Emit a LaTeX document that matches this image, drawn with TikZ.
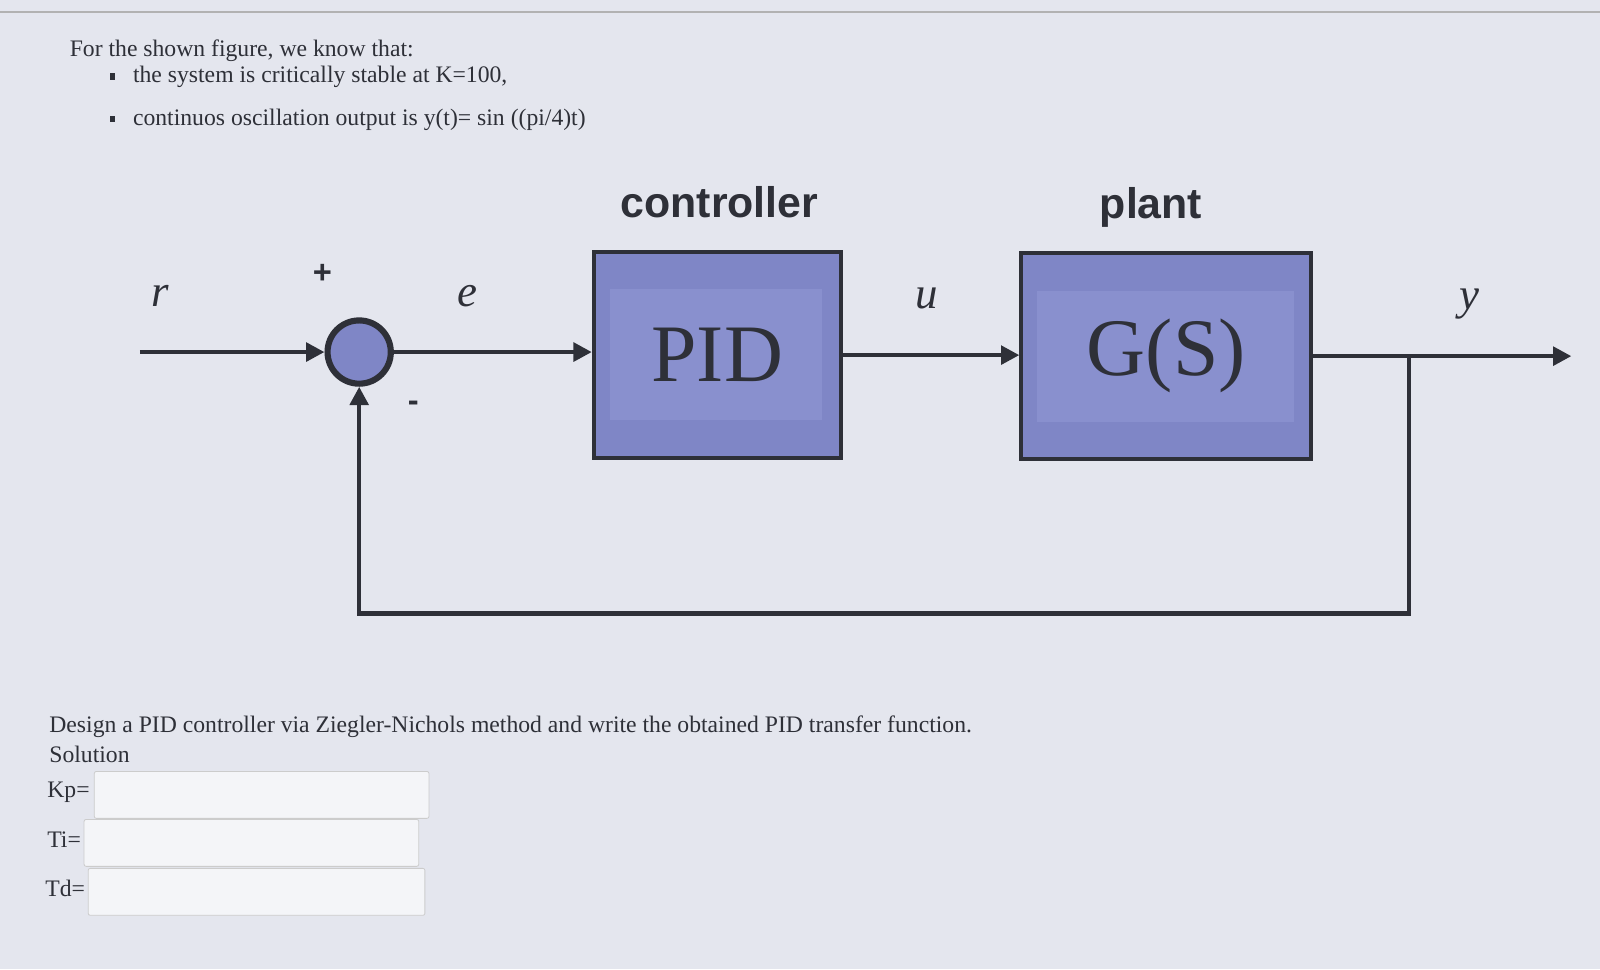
\documentclass[tikz,border=0pt]{standalone}
\usepackage{fontspec}
\setmainfont{Liberation Serif}
\setsansfont{Liberation Sans}
\usetikzlibrary{arrows.meta}
\definecolor{bg}{HTML}{E4E6EE}
\definecolor{boxf}{HTML}{7F86C6}
\definecolor{boxi}{HTML}{8990CE}
\definecolor{dk}{HTML}{2E3038}
\tikzset{
  txt/.style={anchor=west,inner sep=0pt,font=\fontsize{11.6}{13}\selectfont,text=dk},
  blk/.style={draw=dk,line width=2pt,fill=boxf,minimum height=101pt,inner sep=0pt},
  sig/.style={draw=dk,line width=2.2pt,-{Triangle[length=9pt,width=9pt]}},
  lbl/.style={font=\fontsize{22}{24}\selectfont\itshape,text=dk},
  ansbox/.style={draw=gray!40,fill=white!60!bg,rounded corners=1pt,minimum height=23pt,inner sep=0pt}
}
\begin{document}
\begin{tikzpicture}[x=0.5pt,y=-0.5pt]
\useasboundingbox[fill=bg] (0,0) rectangle (1568,950);
\draw[gray!60,line width=1pt] (0,12) -- (1568,12);
\node[txt] (t1) at (68,50) {For the shown figure, we know that:};
\node[txt] (t2) at (130,75) {the system is critically stable at K=100,};
\node[txt] (t3) at (130,117) {continuos oscillation output is y(t)= sin ((pi/4)t)};
\fill[dk] (108,72) rectangle (113,78);
\fill[dk] (108,114) rectangle (113,120);
\node[font=\sffamily\bfseries\fontsize{21}{24}\selectfont,text=dk] (ct) at (705,198) {controller};
\node[font=\sffamily\bfseries\fontsize{21}{24}\selectfont,text=dk] (pt) at (1128,203) {plant};
\node[blk,minimum width=121pt] (pid) at (703,348) {};
\fill[boxi] (598,283) rectangle (806,412);
\node[font=\fontsize{40}{44}\selectfont,text=dk] at (pid) {PID};
\node[blk,minimum width=142pt] (g) at (1143,349) {};
\fill[boxi] (1016,285) rectangle (1268,414);
\node[font=\fontsize{40}{44}\selectfont,text=dk] at (g) {G(S)};
\node[circle,draw=dk,line width=3pt,fill=boxf,minimum size=31pt,inner sep=0pt] (sum) at (352,345) {};
\coordinate (rin) at (137,345);
\coordinate (yout) at (1540,349);
\coordinate (tap) at (1381,349);
\draw[sig] (rin) -- (sum.west);
\draw[sig] (sum.east) -- (pid.west |- sum.east);
\draw[sig] (pid.east) -- (g.west |- pid.east);
\draw[sig] (g.east |- yout) -- (yout);
\draw[sig] (tap) -- (1381,601) -- (352,601) -- (sum.south);
\node[lbl] (r) at (157,290) {r};
\node[font=\sffamily\bfseries\fontsize{16}{18}\selectfont,text=dk] (plus) at (316,268) {+};
\node[lbl] (e) at (458,290) {e};
\node[font=\sffamily\bfseries\fontsize{16}{18}\selectfont,text=dk] (minus) at (405,398) {-};
\node[lbl] (u) at (908,292) {u};
\node[lbl] (y) at (1440,298) {y};
\node[txt] (d1) at (48,712) {Design a PID controller via Ziegler-Nichols method and write the obtained PID transfer function.};
\node[txt] (d2) at (48,739) {Solution};
\node[txt] (kp) at (46,776) {Kp=};
\node[txt] (ti) at (46,823) {Ti=};
\node[txt] (td) at (44,871) {Td=};
\node[ansbox,minimum width=164pt,anchor=west] (b1) at (92,779) {};
\node[ansbox,minimum width=164pt,anchor=west] (b2) at (82,826) {};
\node[ansbox,minimum width=165pt,anchor=west] (b3) at (86,874) {};
\end{tikzpicture}
\end{document}
